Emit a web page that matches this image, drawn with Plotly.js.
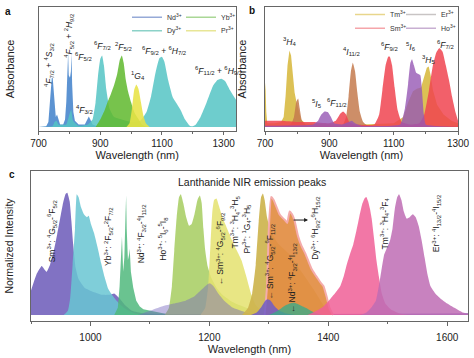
<!DOCTYPE html>
<html><head><meta charset="utf-8">
<script src="https://cdn.plot.ly/plotly-3.0.1.min.js"></script>
<style>html,body{margin:0;padding:0;background:#fff}#c{width:474px;height:358px}</style>
</head><body><div id="c"></div>
<script>
// ---------- Panel a: absorbance (wavelength nm, relative absorbance) ----------
const aNdX = [700,725,732,737,740,743,746,749,752,756,760,764,770,780,786,790,794,796,798,802,805,807,809,813,818,830,850,856,863,868,875,890,950];
const aNdY = [0,0.005,0.04,0.18,0.3,0.4,0.4,0.3,0.15,0.08,0.1,0.06,0.02,0.02,0.06,0.2,0.45,0.6,0.42,0.4,0.45,0.6,0.35,0.12,0.05,0.02,0.02,0.05,0.085,0.06,0.02,0.005,0];
const aDyX = [700,745,752,758,765,790,800,806,812,830,860,875,885,893,900,906,912,920,930,945,970,1000,1030,1050,1065,1080,1092,1100,1108,1120,1135,1150,1160,1175,1190,1200,1210,1225,1245,1265,1280,1292,1305,1320,1340];
const aDyY = [0,0.005,0.04,0.05,0.02,0.02,0.1,0.14,0.05,0.01,0.02,0.06,0.2,0.42,0.55,0.58,0.5,0.3,0.15,0.08,0.06,0.04,0.05,0.12,0.25,0.45,0.56,0.57,0.53,0.38,0.24,0.18,0.14,0.06,0.01,0.005,0.02,0.08,0.2,0.33,0.38,0.39,0.37,0.3,0.22];
const aYbX = [885,900,915,925,935,945,955,963,970,976,983,990,1000,1012,1025,1035,1050];
const aYbY = [0,0.06,0.14,0.21,0.27,0.34,0.43,0.54,0.58,0.52,0.38,0.29,0.2,0.11,0.06,0.02,0];
const aPrX = [985,995,1003,1010,1017,1024,1032,1040,1048,1060];
const aPrY = [0,0.03,0.15,0.3,0.345,0.31,0.2,0.09,0.03,0];

// ---------- Panel b ----------
const bTmX = [700,702,704,707,730,750,758,764,770,776,781,786,792,798,805,812,825,900,1000,1100,1130,1145,1160,1172,1185,1195,1203,1209,1215,1222,1235,1255,1280,1300];
const bTmY = [0.36,0.3,0.12,0.03,0.03,0.04,0.08,0.25,0.5,0.62,0.58,0.42,0.28,0.2,0.12,0.06,0.03,0.02,0.02,0.03,0.08,0.2,0.29,0.31,0.32,0.42,0.48,0.49,0.42,0.3,0.18,0.1,0.05,0.03];
const bErX = [700,780,790,797,803,808,815,830,940,952,960,967,973,980,987,995,1005,1020,1300];
const bErY = [0.01,0.02,0.08,0.2,0.23,0.15,0.05,0.01,0.01,0.08,0.25,0.45,0.52,0.45,0.28,0.12,0.04,0.01,0.01];
const bSmX = [700,750,800,850,900,920,935,943,952,962,980,1040,1055,1065,1075,1083,1088,1095,1103,1112,1125,1150,1180,1195,1210,1222,1232,1242,1252,1262,1272,1282,1292,1300];
const bSmY = [0.05,0.05,0.04,0.04,0.03,0.05,0.11,0.125,0.1,0.04,0.02,0.02,0.1,0.3,0.5,0.57,0.57,0.5,0.32,0.14,0.04,0.02,0.03,0.1,0.3,0.5,0.6,0.64,0.61,0.5,0.38,0.24,0.12,0.05];
const bHoX = [700,850,865,875,885,895,905,915,940,960,970,980,1000,1120,1135,1145,1152,1157,1163,1170,1177,1183,1188,1194,1200,1300];
const bHoY = [0.01,0.02,0.05,0.1,0.125,0.12,0.08,0.03,0.02,0.04,0.05,0.03,0.01,0.02,0.15,0.35,0.52,0.55,0.5,0.44,0.43,0.42,0.3,0.1,0.02,0];

// ---------- Panel c: NIR emission ----------
const cSmF52X = [900,909,918,926,932,938,944,949,954,958,961,965,968,971,975,980,990,1005,1020,1032,1040,1048,1058,1070,1090,1635];
const cSmF52Y = [0.17,0.28,0.34,0.3,0.35,0.44,0.56,0.67,0.78,0.84,0.85,0.79,0.65,0.49,0.33,0.25,0.19,0.16,0.14,0.14,0.15,0.12,0.07,0.03,0.012,0.012];
const cYbX = [955,962,966,970,974,977,980,984,989,994,997,1001,1006,1012,1018,1024,1030,1038,1048,1060,1075,1090];
const cYbY = [0,0.03,0.12,0.35,0.6,0.84,0.82,0.75,0.7,0.68,0.69,0.63,0.57,0.47,0.36,0.26,0.18,0.13,0.08,0.04,0.01,0];
const cNdI112X = [1040,1046,1049,1051,1053,1055,1057,1059,1060,1061,1063,1065,1066,1068,1072,1077,1083,1089,1100,1115,1130,1150];
const cNdI112Y = [0,0.05,0.2,0.45,0.545,0.3,0.4,0.7,0.83,0.6,0.38,0.42,0.46,0.3,0.19,0.1,0.06,0.04,0.03,0.015,0.005,0];
const cHoX = [1125,1132,1137,1141,1145,1149,1152,1156,1161,1166,1170,1175,1180,1184,1187,1190,1193,1197,1203,1212,1222,1235,1250,1270,1290,1310];
const cHoY = [0,0.05,0.2,0.45,0.68,0.82,0.84,0.78,0.68,0.62,0.63,0.7,0.8,0.83,0.78,0.6,0.45,0.34,0.26,0.19,0.14,0.1,0.07,0.04,0.02,0];
const cTmH5X = [1185,1193,1198,1202,1205,1208,1212,1216,1222,1230,1238,1246,1254,1262,1270,1278,1290,1300];
const cTmH5Y = [0,0.05,0.2,0.5,0.72,0.8,0.81,0.76,0.68,0.6,0.52,0.45,0.38,0.27,0.15,0.07,0.02,0];
const cSmF92X = [1080,1100,1120,1140,1160,1175,1188,1196,1201,1207,1215,1225,1240,1260,1280];
const cSmF92Y = [0,0.03,0.06,0.08,0.1,0.13,0.18,0.21,0.22,0.2,0.15,0.1,0.05,0.02,0];
const cPrX = [1255,1265,1272,1278,1283,1287,1290,1293,1297,1302,1315,1335,1355,1375,1395,1410];
const cPrY = [0,0.05,0.15,0.35,0.65,0.82,0.845,0.8,0.68,0.6,0.5,0.42,0.3,0.18,0.05,0];
const cDyX = [1293,1297,1300,1304,1308,1313,1318,1322,1327,1331,1335,1339,1343,1349,1355,1361,1367,1372,1378,1383,1388,1392,1397,1402,1408];
const cDyY = [0,0.2,0.6,0.82,0.8,0.75,0.7,0.68,0.66,0.64,0.72,0.7,0.66,0.55,0.48,0.43,0.37,0.32,0.28,0.25,0.22,0.2,0.13,0.05,0];
const cSmF112X = [1270,1280,1288,1294,1298,1303,1310,1318,1330,1345];
const cSmF112Y = [0,0.02,0.06,0.1,0.11,0.1,0.06,0.03,0.01,0];
const cNdI132X = [1300,1315,1325,1335,1343,1352,1362,1375,1390];
const cNdI132Y = [0,0.03,0.06,0.08,0.085,0.07,0.05,0.02,0];
const cTmF4X = [1365,1380,1392,1403,1413,1420,1426,1431,1437,1442,1447,1452,1457,1461,1464,1467,1470,1473,1477,1481,1485,1490,1496,1505,1520,1535];
const cTmF4Y = [0,0.03,0.06,0.11,0.16,0.2,0.27,0.35,0.43,0.49,0.58,0.68,0.77,0.81,0.82,0.79,0.74,0.67,0.53,0.38,0.27,0.15,0.08,0.04,0.01,0];
const cErX = [1455,1465,1472,1480,1485,1489,1494,1499,1504,1508,1512,1516,1519,1523,1527,1532,1537,1542,1547,1552,1557,1562,1567,1572,1580,1590,1600,1612,1625,1635];
const cErY = [0,0.02,0.05,0.1,0.2,0.3,0.42,0.47,0.52,0.6,0.74,0.82,0.84,0.8,0.72,0.67,0.68,0.7,0.68,0.62,0.52,0.4,0.28,0.2,0.15,0.11,0.08,0.05,0.02,0.01];

const FONT = 'Liberation Sans, Arial, sans-serif';

function area(x, y, xa, ya, color, extra) {
  const t = {type:'scatter', mode:'lines', x:x, y:y, xaxis:xa, yaxis:ya, fill:'tozeroy',
    fillcolor:color, line:{width:0, color:color, shape:'spline', smoothing:0.4},
    showlegend:false, hoverinfo:'skip'};
  return Object.assign(t, extra || {});
}
function leg(name, color, legendId, xa, ya) {
  return {type:'scatter', mode:'lines', x:[null], y:[null], xaxis:xa, yaxis:ya, name:name,
    line:{color:color, width:1.5}, legend:legendId, showlegend:true, hoverinfo:'skip'};
}

const traces = [
  // a
  area(aNdX, aNdY, 'x', 'y', 'rgba(70,132,204,0.88)', {line:{width:0, shape:'linear'}}),
  area(aDyX, aDyY, 'x', 'y', 'rgba(85,196,196,0.85)'),
  area(aYbX, aYbY, 'x', 'y', 'rgba(95,185,45,0.85)'),
  area(aPrX, aPrY, 'x', 'y', 'rgba(232,226,70,0.88)'),
  // b
  area(bTmX, bTmY, 'x2', 'y2', 'rgba(214,182,55,0.85)', {line:{width:0, shape:'linear'}}),
  area(bErX, bErY, 'x2', 'y2', 'rgba(196,122,78,0.85)'),
  area(bSmX, bSmY, 'x2', 'y2', 'rgba(240,68,80,0.85)'),
  area(bHoX, bHoY, 'x2', 'y2', 'rgba(150,88,180,0.8)'),
  // c
  area(cSmF52X, cSmF52Y, 'x3', 'y3', 'rgba(118,102,190,0.92)'),
  area(cYbX, cYbY, 'x3', 'y3', 'rgba(105,198,210,0.85)'),
  area(cNdI112X, cNdI112Y, 'x3', 'y3', 'rgba(80,185,125,0.85)', {line:{width:0, shape:'linear'}}),
  area(cHoX, cHoY, 'x3', 'y3', 'rgba(168,206,100,0.88)'),
  area(cTmH5X, cTmH5Y, 'x3', 'y3', 'rgba(228,226,110,0.85)'),
  area(cSmF92X, cSmF92Y, 'x3', 'y3', 'rgba(118,102,190,0.45)'),
  area(cPrX, cPrY, 'x3', 'y3', 'rgba(205,180,78,0.92)'),
  area(cDyX, cDyY, 'x3', 'y3', 'rgba(226,142,68,0.93)', {line:{width:2, color:'rgba(244,172,172,1)', shape:'spline', smoothing:0.4}}),
  area(cSmF112X, cSmF112Y, 'x3', 'y3', 'rgba(110,90,200,0.85)'),
  area(cNdI132X, cNdI132Y, 'x3', 'y3', 'rgba(60,170,135,0.8)'),
  area(cTmF4X, cTmF4Y, 'x3', 'y3', 'rgba(240,95,150,0.85)'),
  area(cErX, cErY, 'x3', 'y3', 'rgba(190,108,180,0.85)'),
  // legends
  leg('Nd<sup>3+</sup>', 'rgba(150,170,215,1)', 'legend', 'x', 'y'),
  leg('Dy<sup>3+</sup>', 'rgba(140,210,200,1)', 'legend2', 'x', 'y'),
  leg('Yb<sup>3+</sup>', 'rgba(170,215,150,1)', 'legend3', 'x', 'y'),
  leg('Pr<sup>3+</sup>', 'rgba(232,230,150,1)', 'legend4', 'x', 'y'),
  leg('Tm<sup>3+</sup>', 'rgba(232,214,140,1)', 'legend5', 'x2', 'y2'),
  leg('Sm<sup>3+</sup>', 'rgba(245,165,170,1)', 'legend6', 'x2', 'y2'),
  leg('Er<sup>3+</sup>', 'rgba(200,196,196,1)', 'legend7', 'x2', 'y2'),
  leg('Ho<sup>3+</sup>', 'rgba(200,175,210,1)', 'legend8', 'x2', 'y2')
];

const W = 474, H = 358;
const px = v => v / W, py = v => 1 - v / H;

function xax(domain, range, dtick, tick0, anchor) {
  return {domain:domain, range:range, anchor:anchor, dtick:dtick, tick0:tick0, tickmode:'linear',
    showline:true, mirror:true, linecolor:'#666', linewidth:1, ticks:'outside', ticklen:3, tickcolor:'#666',
    minor:{dtick:dtick/2, ticks:'outside', ticklen:2.5, tickcolor:'#666'},
    showgrid:false, zeroline:false, tickfont:{family:FONT, size:10, color:'#222'},
    title:{text:'Wavelength (nm)', font:{family:FONT, size:11, color:'#222'}, standoff:2}};
}
function yax(domain, range, title, anchor, size, standoff) {
  return {domain:domain, range:range, anchor:anchor, showline:true, mirror:true, linecolor:'#666', linewidth:1,
    ticks:'', showticklabels:false, showgrid:false, zeroline:false,
    title:{text:title, font:{family:FONT, size:size, color:'#222'}, standoff:standoff}};
}

const legBase = {xanchor:'left', yanchor:'middle', bgcolor:'rgba(0,0,0,0)', borderwidth:0,
  font:{family:FONT, size:7, color:'#333'}, itemwidth:30, tracegroupgap:0};
function L(x, y) { return Object.assign({}, legBase, {x:px(x), y:py(y)}); }

const ann = [];
function lab(text, x, y, xref, yref, angle, size) {
  ann.push({text:text, x:x, y:y, xref:xref, yref:yref, showarrow:false, textangle:angle || 0,
    font:{family:FONT, size:size || 8.5, color:'#222'}, xanchor:'center', yanchor:'middle'});
}
// panel a labels
lab('<sup>4</sup><i>F</i><sub>7/2</sub> + <sup>4</sup><i>S</i><sub>3/2</sub>', 733, 0.5, 'x', 'y', -90);
lab('<sup>4</sup><i>F</i><sub>5/2</sub> + <sup>2</sup><i>H</i><sub>9/2</sub>', 799, 0.74, 'x', 'y', -90);
lab('<sup>6</sup><i>F</i><sub>5/2</sub>', 845, 0.57, 'x', 'y');
lab('<sup>4</sup><i>F</i><sub>3/2</sub>', 850, 0.14, 'x', 'y');
lab('<sup>6</sup><i>F</i><sub>7/2</sub>', 908, 0.66, 'x', 'y');
lab('<sup>2</sup><i>F</i><sub>5/2</sub>', 977, 0.65, 'x', 'y');
lab('<sup>1</sup><i>G</i><sub>4</sub>', 1021, 0.42, 'x', 'y');
lab('<sup>6</sup><i>F</i><sub>9/2</sub> + <sup>6</sup><i>H</i><sub>7/2</sub>', 1108, 0.62, 'x', 'y');
lab('<sup>6</sup><i>F</i><sub>11/2</sub> + <sup>6</sup><i>H</i><sub>9/2</sub>', 1284, 0.46, 'x', 'y');
// panel b labels
lab('<sup>3</sup><i>H</i><sub>4</sub>', 775, 0.69, 'x2', 'y2');
lab('<sup>5</sup><i>I</i><sub>5</sub>', 861, 0.19, 'x2', 'y2');
lab('<sup>6</sup><i>F</i><sub>11/2</sub>', 925, 0.2, 'x2', 'y2');
lab('<sup>4</sup><i>I</i><sub>11/2</sub>', 970, 0.61, 'x2', 'y2');
lab('<sup>6</sup><i>F</i><sub>9/2</sub>', 1086, 0.65, 'x2', 'y2');
lab('<sup>5</sup><i>I</i><sub>6</sub>', 1155, 0.65, 'x2', 'y2');
lab('<sup>3</sup><i>H</i><sub>5</sub>', 1209, 0.55, 'x2', 'y2');
lab('<sup>6</sup><i>F</i><sub>7/2</sub>', 1262, 0.67, 'x2', 'y2');
// panel c labels
lab('Sm<sup>3+</sup>: <sup>4</sup>G<sub>5/2</sub>-<sup>6</sup>F<sub>5/2</sub>', 935, 0.58, 'x3', 'y3', -90);
lab('Yb<sup>3+</sup>: <sup>2</sup>F<sub>5/2</sub>-<sup>2</sup>F<sub>7/2</sub>', 1030, 0.545, 'x3', 'y3', -90);
lab('Nd<sup>3+</sup>: <sup>4</sup>F<sub>3/2</sub>-<sup>4</sup>I<sub>11/2</sub>', 1086, 0.565, 'x3', 'y3', -90);
lab('Ho<sup>3+</sup>: <sup>5</sup>I<sub>6</sub>-<sup>5</sup>I<sub>8</sub>', 1122, 0.53, 'x3', 'y3', -90);
lab('← Sm<sup>3+</sup>: <sup>4</sup>G<sub>5/2</sub>-<sup>6</sup>F<sub>9/2</sub>', 1218, 0.455, 'x3', 'y3', -90);
lab('Tm<sup>3+</sup>: <sup>3</sup>H<sub>4</sub>-<sup>3</sup>H<sub>5</sub>', 1243, 0.65, 'x3', 'y3', -90);
lab('Pr<sup>3+</sup>: <sup>1</sup>G<sub>4</sub>-<sup>3</sup>H<sub>5</sub>', 1263, 0.6, 'x3', 'y3', -90);
lab('← Sm<sup>3+</sup>: <sup>4</sup>G<sub>5/2</sub>-<sup>6</sup>F<sub>11/2</sub>', 1302, 0.37, 'x3', 'y3', -90);
lab('← Nd<sup>3+</sup>: <sup>4</sup>F<sub>3/2</sub>-<sup>4</sup>I<sub>13/2</sub>', 1339, 0.255, 'x3', 'y3', -90);
lab('Dy<sup>3+</sup>: <sup>6</sup>H<sub>9/2</sub>-<sup>6</sup>H<sub>15/2</sub>', 1378, 0.6, 'x3', 'y3', -90);
lab('Tm<sup>3+</sup>: <sup>3</sup>H<sub>4</sub>-<sup>3</sup>F<sub>4</sub>', 1495, 0.635, 'x3', 'y3', -90);
lab('Er<sup>3+</sup>: <sup>4</sup>I<sub>13/2</sub>-<sup>4</sup>I<sub>15/2</sub>', 1582, 0.635, 'x3', 'y3', -90);
lab('Lanthanide NIR emission peaks', 1272, 0.925, 'x3', 'y3', 0, 10.5);
ann.push({x:1366, y:0.66, xref:'x3', yref:'y3', ax:-16, ay:0, text:'', showarrow:true,
  arrowhead:2, arrowsize:0.8, arrowwidth:1, arrowcolor:'#222'});
// panel letters
function letter(t, x, y) {
  ann.push({text:'<b>'+t+'</b>', x:px(x), y:py(y), xref:'paper', yref:'paper', showarrow:false,
    font:{family:FONT, size:10, color:'#111'}, xanchor:'center', yanchor:'middle'});
}
letter('a', 8, 8); letter('b', 252, 7); letter('c', 12, 172);

const layout = {
  width:W, height:H, margin:{l:0, r:0, t:0, b:0}, paper_bgcolor:'#fff', plot_bgcolor:'#fff',
  font:{family:FONT},
  xaxis: xax([px(38.5), px(236)], [700, 1340], 200, 700, 'y'),
  yaxis: yax([py(128), py(3.5)], [-0.03, 0.97], 'Absorbance', 'x', 11, 20),
  xaxis2: xax([px(265), px(458)], [700, 1300], 200, 700, 'y2'),
  yaxis2: yax([py(128), py(3.5)], [-0.03, 0.97], 'Absorbance', 'x2', 11, 15),
  xaxis3: Object.assign(xax([px(31), px(468)], [900, 1635], 200, 1000, 'y3'), {ticklen:4, ticklabelstandoff:3}),
  yaxis3: yax([py(320.5), py(169)], [-0.041, 1.0], 'Normalized Intensity', 'x3', 10.5, 14),
  legend: L(127, 13.5), legend2: L(127, 27), legend3: L(181, 13.5), legend4: L(181, 27),
  legend5: L(350, 10.5), legend6: L(350, 24.5), legend7: L(401, 10.5), legend8: L(401, 24.5),
  annotations: ann,
  showlegend: true
};

Plotly.newPlot('c', traces, layout, {staticPlot:true, displayModeBar:false});
</script></body></html>
